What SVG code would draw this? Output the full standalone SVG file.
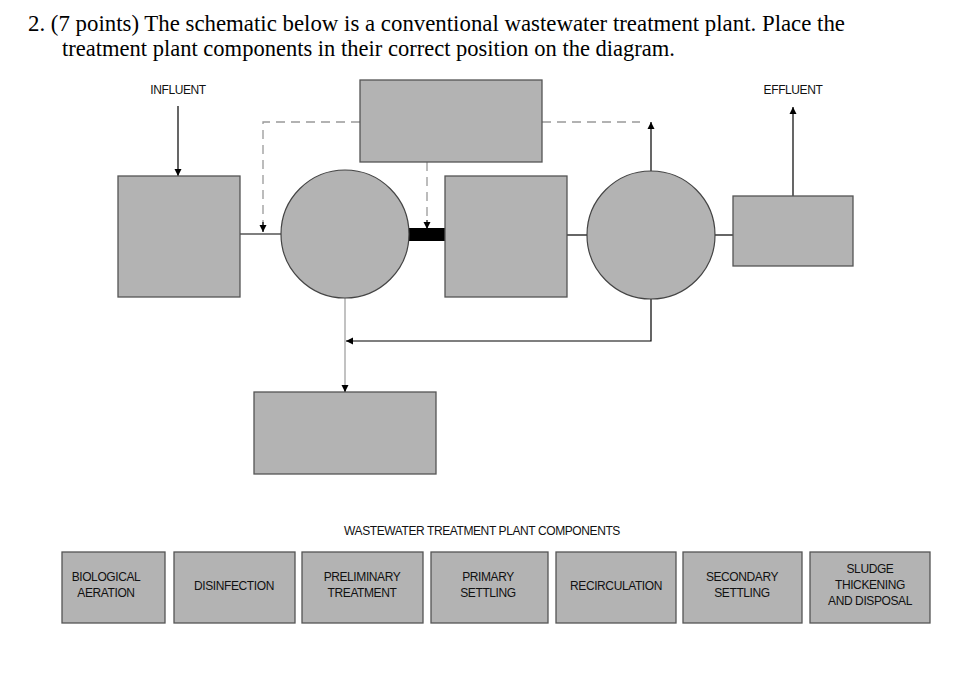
<svg xmlns="http://www.w3.org/2000/svg" width="954" height="680" viewBox="0 0 954 680">
<defs>
<marker id="ar" viewBox="0 0 10 10" refX="10" refY="5" markerWidth="7" markerHeight="8" orient="auto" markerUnits="userSpaceOnUse"><path d="M0,0 L10,5 L0,10 z" fill="#000"/></marker>
</defs>
<style>
.h{font-family:"Liberation Serif",serif;font-size:22.5px;fill:#000}
.t{font-family:"Liberation Sans",Arial,sans-serif;font-size:12px;fill:#111;text-anchor:middle;letter-spacing:-0.4px}
.b{fill:#b3b3b3;stroke:#555;stroke-width:1.3}
.c{fill:#b3b3b3;stroke:#444;stroke-width:1.2}
.l{stroke:#000;stroke-width:1.2;fill:none}
.g{stroke:#999;stroke-width:1.2;fill:none}
.d{stroke:#999;stroke-width:1.3;stroke-dasharray:9,6;fill:none}
</style>
<rect width="954" height="680" fill="#fff"/>
<text class="h" x="28" y="31" textLength="817" lengthAdjust="spacingAndGlyphs">2.  (7 points) The schematic below is a conventional wastewater treatment plant. Place the</text>
<text class="h" x="62" y="56" textLength="613" lengthAdjust="spacingAndGlyphs">treatment plant components in their correct position on the diagram.</text>
<text class="t" x="178" y="94">INFLUENT</text>
<text class="t" x="793" y="94">EFFLUENT</text>
<g id="connectors">
<line class="l" x1="178" y1="106" x2="178" y2="176" marker-end="url(#ar)"/>
<line class="l" x1="240" y1="234" x2="281" y2="234"/>
<polyline class="d" points="360,122 263,122 263,226"/>
<line class="l" x1="263" y1="222" x2="263" y2="232" marker-end="url(#ar)"/>
<line class="d" x1="427" y1="162" x2="427" y2="222"/>
<line class="l" x1="427" y1="220" x2="427" y2="229" marker-end="url(#ar)"/>
<rect x="408" y="228" width="38" height="13" fill="#000"/>
<line class="d" x1="542" y1="122" x2="640" y2="122"/>
<line class="l" x1="567" y1="235" x2="587" y2="235"/>
<line class="l" x1="651" y1="171" x2="651" y2="122" marker-end="url(#ar)"/>
<line class="l" x1="715" y1="235" x2="733" y2="235"/>
<line class="l" x1="793" y1="196" x2="793" y2="107" marker-end="url(#ar)"/>
<line class="g" x1="345" y1="298" x2="345" y2="392"/>
<line class="l" x1="345" y1="385" x2="345" y2="392" marker-end="url(#ar)"/>
<polyline class="l" points="651,298 651,341 346,341" marker-end="url(#ar)"/>
</g>
<g id="n-left"><rect class="b" x="118" y="176" width="122" height="121"/></g>
<g id="n-circle1"><circle class="c" cx="345" cy="234" r="64"/></g>
<g id="n-top"><rect class="b" x="360" y="80" width="182" height="82"/></g>
<g id="n-mid"><rect class="b" x="445" y="176" width="122" height="121"/></g>
<g id="n-circle2"><circle class="c" cx="651" cy="235" r="64"/></g>
<g id="n-right"><rect class="b" x="733" y="196" width="120" height="70"/></g>
<g id="n-bottom"><rect class="b" x="254" y="392" width="182" height="82"/></g>
<text class="t" x="482" y="535">WASTEWATER TREATMENT PLANT COMPONENTS</text>
<g id="c1"><rect class="b" x="62" y="552" width="103" height="71"/><text class="t" x="106" y="581">BIOLOGICAL</text><text class="t" x="106" y="597">AERATION</text></g>
<g id="c2"><rect class="b" x="174" y="552" width="121" height="71"/><text class="t" x="234" y="590">DISINFECTION</text></g>
<g id="c3"><rect class="b" x="302" y="552" width="121" height="71"/><text class="t" x="362" y="581">PRELIMINARY</text><text class="t" x="362" y="597">TREATMENT</text></g>
<g id="c4"><rect class="b" x="431" y="552" width="117" height="71"/><text class="t" x="488" y="581">PRIMARY</text><text class="t" x="488" y="597">SETTLING</text></g>
<g id="c5"><rect class="b" x="556" y="552" width="120" height="71"/><text class="t" x="616" y="590">RECIRCULATION</text></g>
<g id="c6"><rect class="b" x="683" y="552" width="119" height="71"/><text class="t" x="742" y="581">SECONDARY</text><text class="t" x="742" y="597">SETTLING</text></g>
<g id="c7"><rect class="b" x="810" y="552" width="120" height="71"/><text class="t" x="870" y="573">SLUDGE</text><text class="t" x="870" y="589">THICKENING</text><text class="t" x="870" y="605">AND DISPOSAL</text></g>
</svg>
